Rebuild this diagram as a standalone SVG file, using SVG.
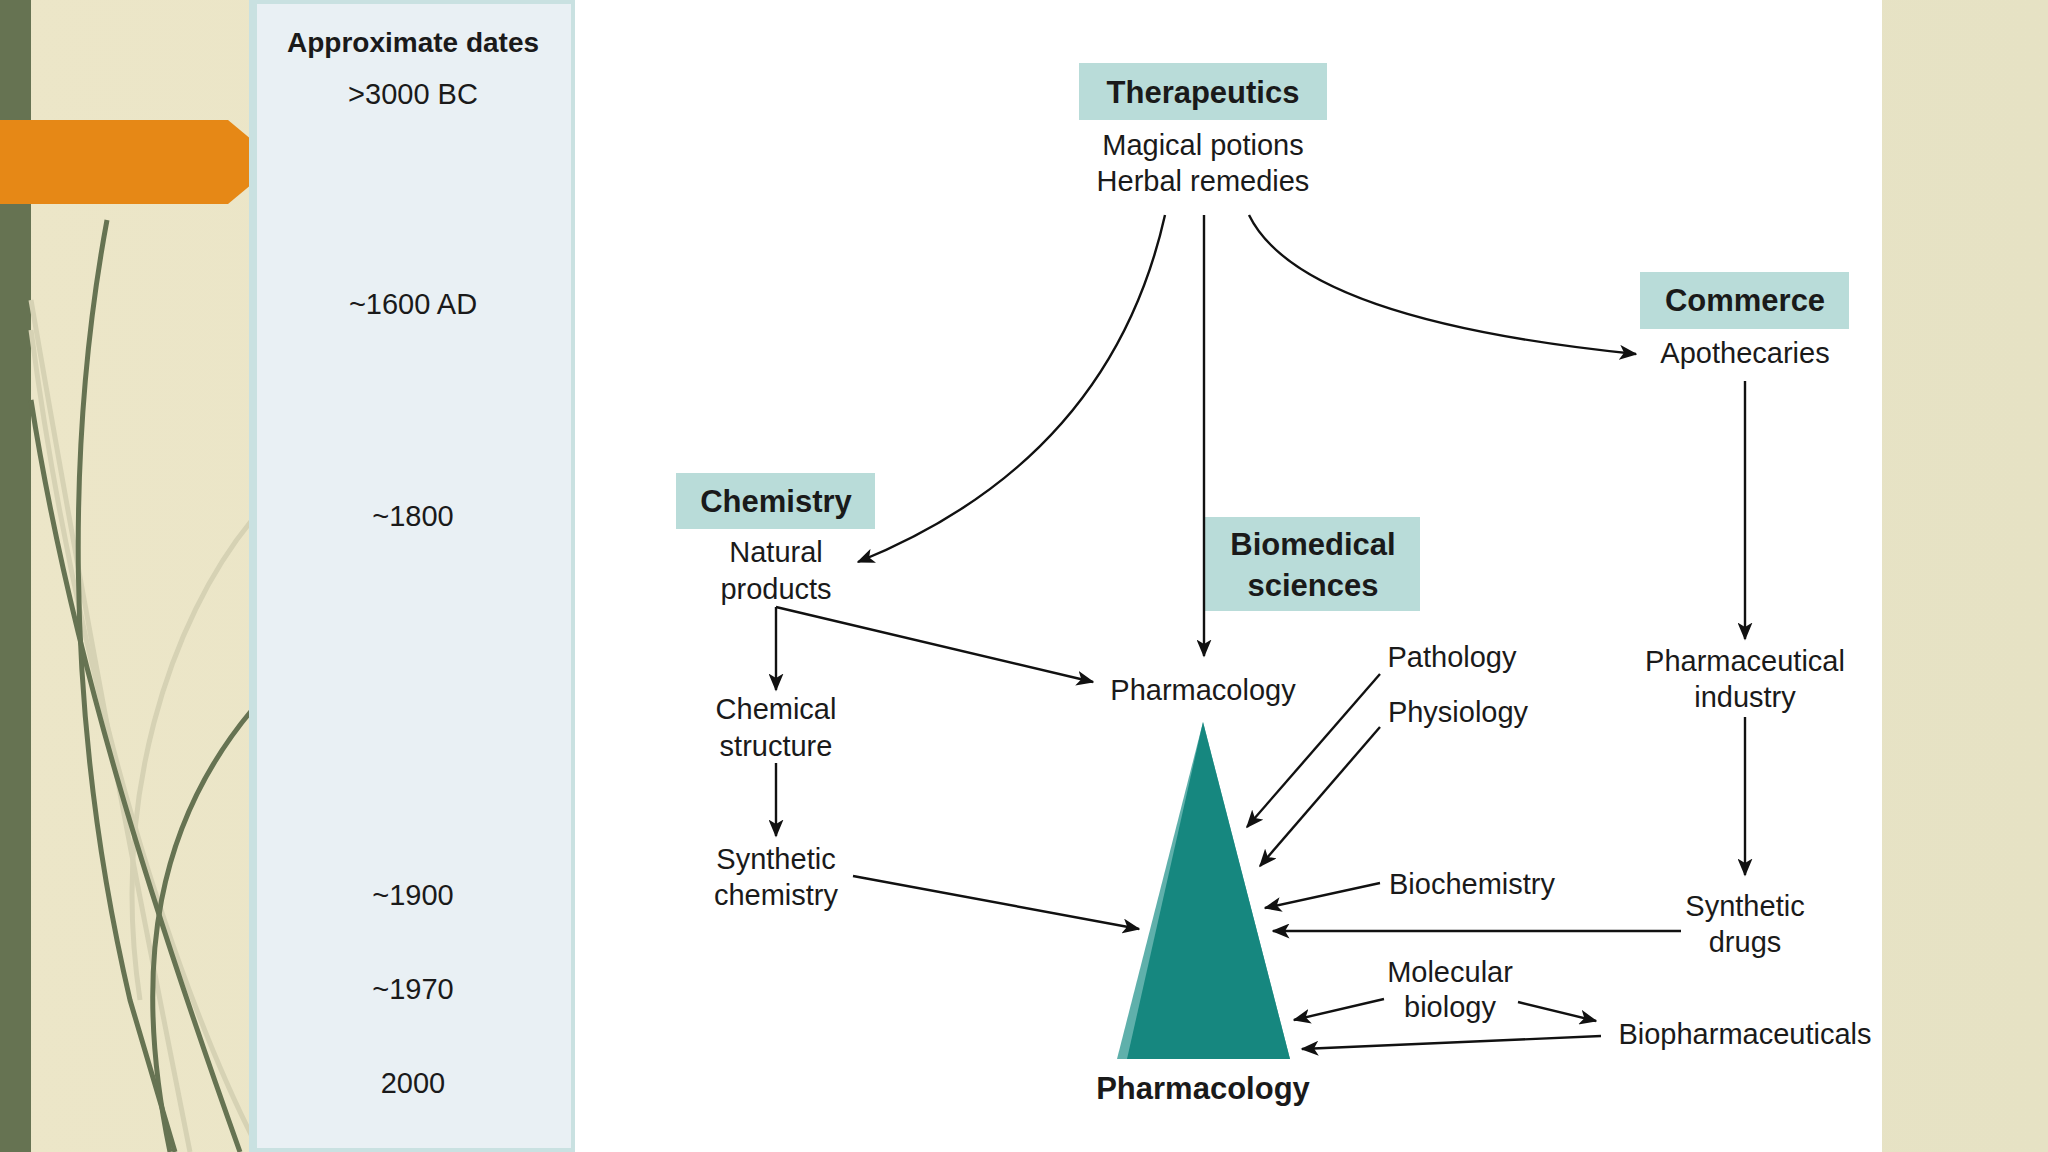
<svg xmlns="http://www.w3.org/2000/svg" width="2048" height="1152" viewBox="0 0 2048 1152">
<defs>
<linearGradient id="bg" x1="0" y1="0" x2="1" y2="0"><stop offset="0" stop-color="#ece6c8"/><stop offset="1" stop-color="#e6e2c4"/></linearGradient>
<marker id="ah" viewBox="0 0 12 10" refX="11" refY="5" markerWidth="18" markerHeight="15" markerUnits="userSpaceOnUse" orient="auto"><path d="M0,0 L12,5 L0,10 L3,5 Z" fill="#111"/></marker>
</defs>
<style>
text{font-family:"Liberation Sans",Arial,sans-serif;fill:#1a1a1a;text-anchor:middle}
.t{font-size:29px}
.d{font-size:29px}
.h{font-size:31px;font-weight:bold}
.box{fill:#b9dcd9}
.c path,.c line{stroke:#111;stroke-width:2.4;fill:none;marker-end:url(#ah)}
.g{fill:none;stroke:#667352;stroke-width:5}
.gl{fill:none;stroke:#d6d2b4;stroke-width:5}
</style>
<rect width="2048" height="1152" fill="url(#bg)"/>
<rect x="0" y="0" width="31" height="1152" fill="#667352"/>
<g id="grass">
<path class="gl" d="M31,330 C80,700 180,1000 260,1152"/>
<path class="gl" d="M31,300 C100,700 150,950 190,1152"/>
<path class="gl" d="M252,520 C170,620 110,800 140,1000"/>
<path class="g" d="M107,220 C70,420 60,700 130,1000 L175,1152"/>
<path class="g" d="M31,400 C70,650 150,900 240,1152"/>
<path class="g" d="M252,710 C160,820 130,960 170,1152"/>
</g>
<path id="tab" d="M0,120 L228,120 L252,140 L252,184 L228,204 L0,204 Z" fill="#e68816"/>
<rect x="253" y="0" width="322" height="1152" fill="#e9f0f4" stroke="#c9e1e1" stroke-width="8"/>
<rect x="575" y="0" width="1307" height="1152" fill="#ffffff"/>
<g id="dates">
<text class="h" x="413" y="52" style="font-size:28px">Approximate dates</text>
<text class="d" x="413" y="104">&gt;3000 BC</text>
<text class="d" x="413" y="314">~1600 AD</text>
<text class="d" x="413" y="526">~1800</text>
<text class="d" x="413" y="905">~1900</text>
<text class="d" x="413" y="999">~1970</text>
<text class="d" x="413" y="1093">2000</text>
</g>
<g id="therapeutics">
<rect class="box" x="1079" y="63" width="248" height="57"/>
<text class="h" x="1203" y="103">Therapeutics</text>
<text class="t" x="1203" y="155">Magical potions</text>
<text class="t" x="1203" y="191">Herbal remedies</text>
</g>
<g id="commerce">
<rect class="box" x="1640" y="272" width="209" height="57"/>
<text class="h" x="1745" y="311">Commerce</text>
<text class="t" x="1745" y="363">Apothecaries</text>
</g>
<g id="chemistry">
<rect class="box" x="676" y="473" width="199" height="56"/>
<text class="h" x="776" y="512">Chemistry</text>
<text class="t" x="776" y="562">Natural</text>
<text class="t" x="776" y="599">products</text>
</g>
<g id="biomedical">
<rect class="box" x="1205" y="517" width="215" height="94"/>
<text class="h" x="1313" y="555">Biomedical</text>
<text class="h" x="1313" y="596">sciences</text>
</g>
<g id="pharmacology-mid"><text class="t" x="1203" y="700">Pharmacology</text></g>
<g id="chemical-structure"><text class="t" x="776" y="719">Chemical</text><text class="t" x="776" y="756">structure</text></g>
<g id="synthetic-chemistry"><text class="t" x="776" y="869">Synthetic</text><text class="t" x="776" y="905">chemistry</text></g>
<g id="pathology"><text class="t" x="1452" y="667">Pathology</text></g>
<g id="physiology"><text class="t" x="1458" y="722">Physiology</text></g>
<g id="pharm-industry"><text class="t" x="1745" y="671">Pharmaceutical</text><text class="t" x="1745" y="707">industry</text></g>
<g id="biochemistry"><text class="t" x="1472" y="894">Biochemistry</text></g>
<g id="synthetic-drugs"><text class="t" x="1745" y="916">Synthetic</text><text class="t" x="1745" y="952">drugs</text></g>
<g id="molecular-biology"><text class="t" x="1450" y="982">Molecular</text><text class="t" x="1450" y="1017">biology</text></g>
<g id="biopharm"><text class="t" x="1745" y="1044">Biopharmaceuticals</text></g>
<g id="pharmacology">
<polygon points="1203,722 1117,1059 1290,1059" fill="#5fb0ab"/>
<polygon points="1203,722 1127,1059 1290,1059" fill="#16877f"/>
<text class="h" x="1203" y="1099">Pharmacology</text>
</g>
<g id="connectors" class="c">
<path d="M1165,215 Q1110,460 858,562"/>
<line x1="1204" y1="215" x2="1204" y2="656"/>
<path d="M1249,215 Q1300,320 1636,354"/>
<line x1="1745" y1="381" x2="1745" y2="639"/>
<line x1="776" y1="607" x2="776" y2="690"/>
<path d="M776,607 L1093,682"/>
<line x1="776" y1="763" x2="776" y2="836"/>
<line x1="853" y1="876" x2="1139" y2="929"/>
<line x1="1380" y1="674" x2="1247" y2="827"/>
<line x1="1380" y1="727" x2="1260" y2="866"/>
<line x1="1380" y1="883" x2="1265" y2="908"/>
<line x1="1681" y1="931" x2="1273" y2="931"/>
<line x1="1745" y1="717" x2="1745" y2="875"/>
<line x1="1384" y1="999" x2="1294" y2="1020"/>
<line x1="1518" y1="1002" x2="1596" y2="1021"/>
<line x1="1601" y1="1036" x2="1302" y2="1049"/>
</g>
</svg>
